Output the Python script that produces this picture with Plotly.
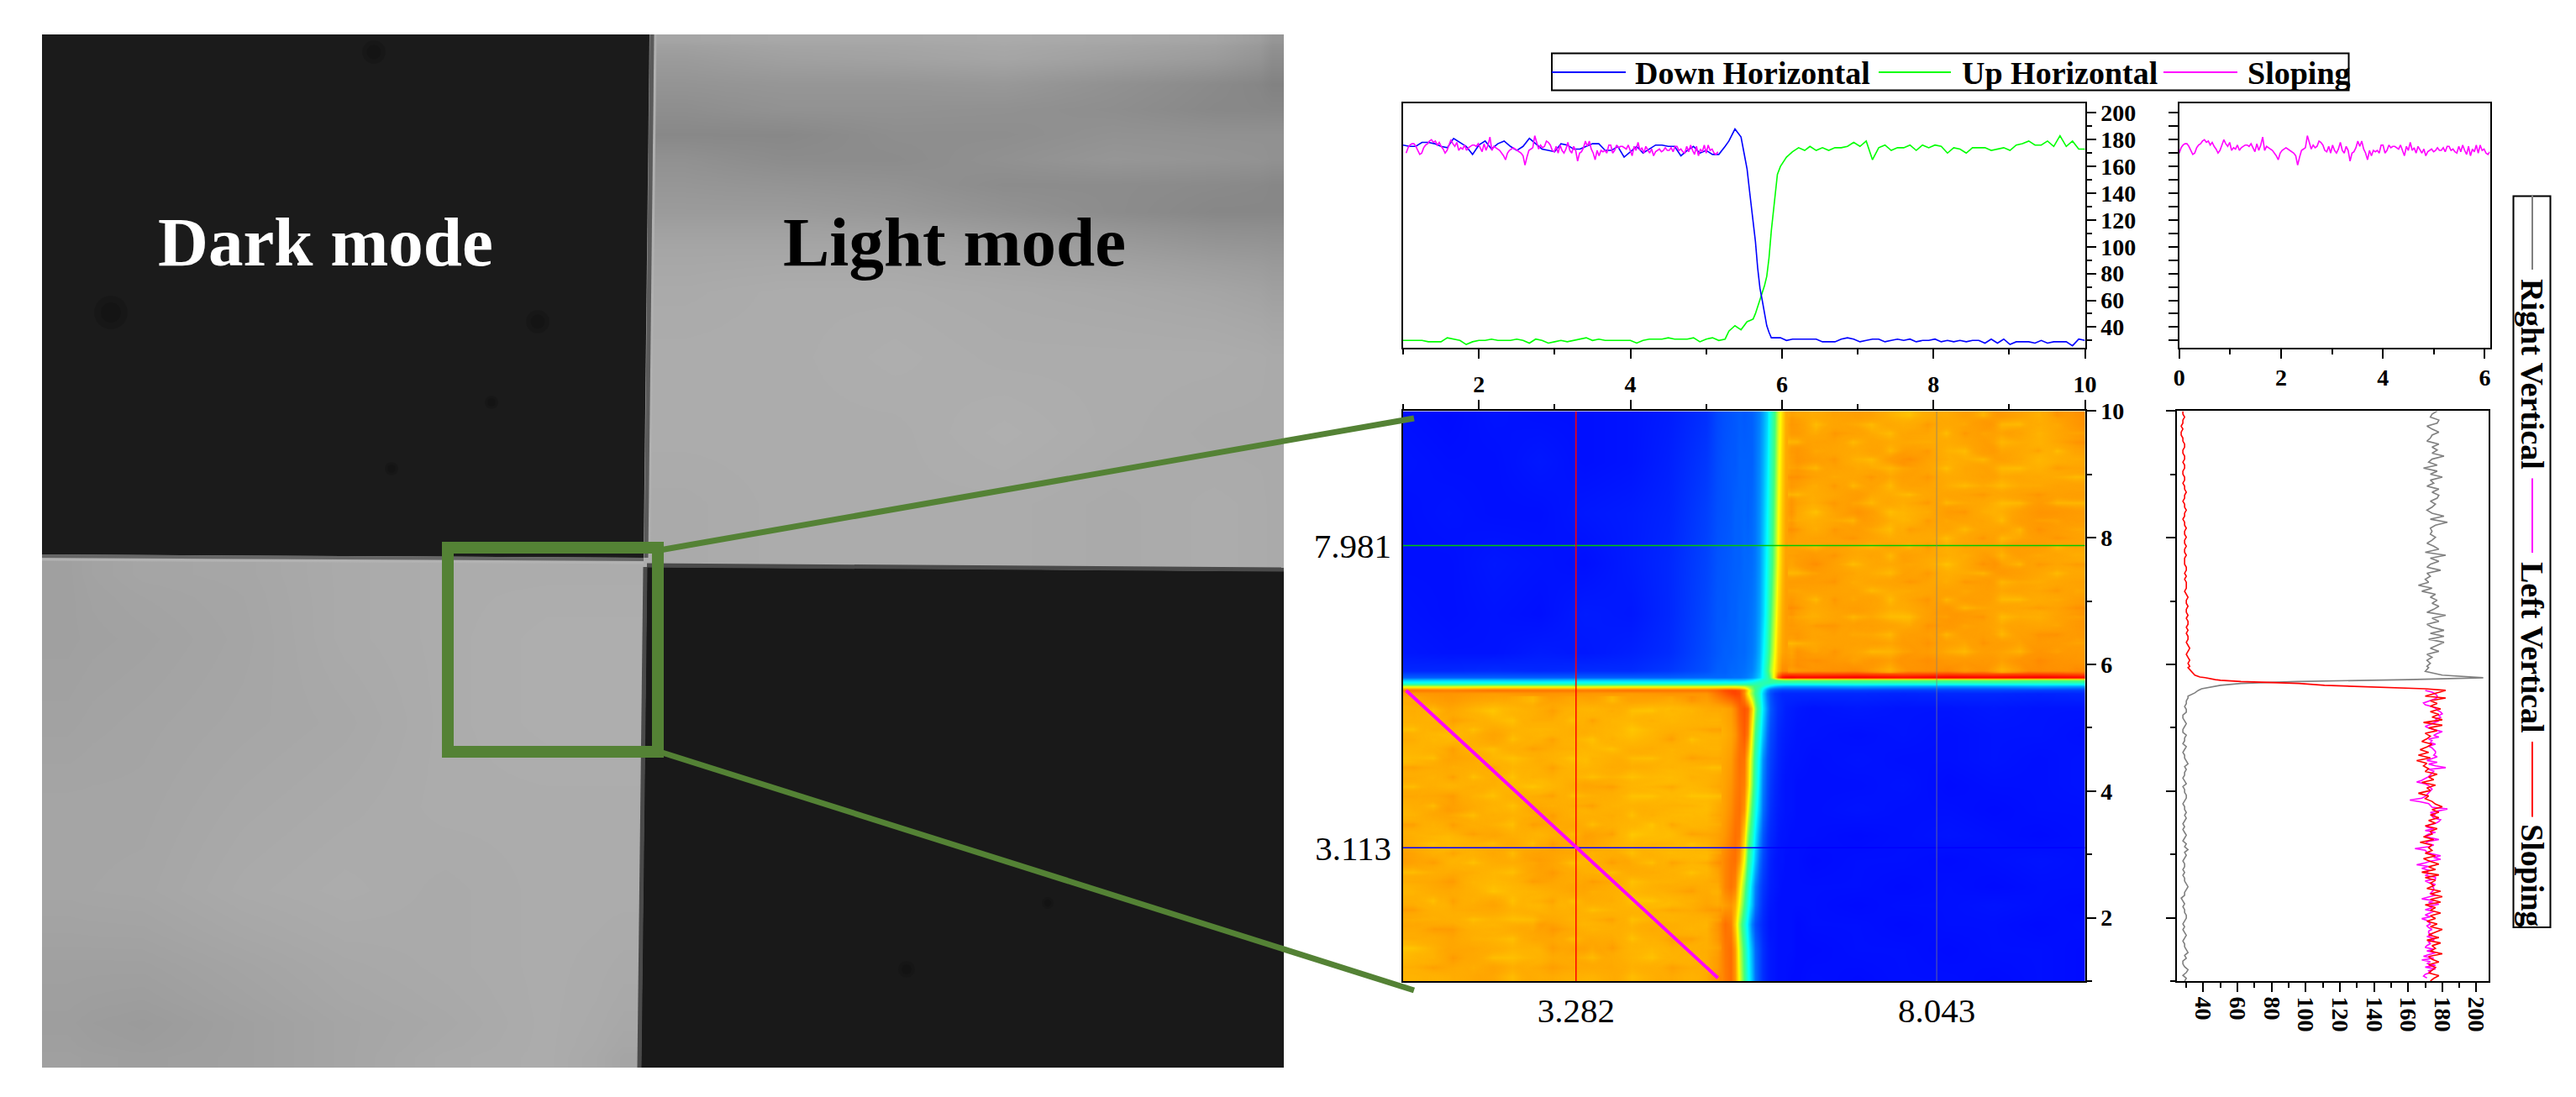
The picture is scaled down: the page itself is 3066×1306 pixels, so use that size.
import plotly.graph_objects as go

W = 3066
H = 1306
SERIF = "Liberation Serif"

# --- photo on the left, grey levels (cell edges in page pixels)
tr_x = [760, 870, 1000, 1130, 1260, 1390, 1500, 1528]
tr_y = [41, 55, 85, 115, 145, 175, 205, 235, 270, 315, 380, 470, 560, 640, 678]
tr_grey = [
    [165, 168, 168, 170, 168, 165, 150],
    [155, 160, 162, 165, 160, 155, 140],
    [148, 150, 150, 152, 145, 138, 130],
    [142, 146, 146, 145, 142, 136, 135],
    [136, 136, 142, 142, 146, 145, 145],
    [145, 140, 140, 145, 150, 148, 145],
    [150, 148, 146, 140, 140, 138, 135],
    [155, 155, 152, 146, 140, 135, 135],
    [165, 165, 165, 160, 155, 150, 148],
    [170, 172, 172, 170, 168, 165, 160],
    [172, 172, 174, 172, 172, 172, 170],
    [172, 172, 172, 175, 172, 170, 170],
    [170, 172, 172, 172, 170, 172, 170],
    [170, 172, 172, 172, 170, 172, 170],
]
bl_x = [50, 110, 230, 350, 470, 590, 710, 775]
bl_y = [658, 710, 810, 910, 1010, 1110, 1190, 1245, 1271]
bl_grey = [
    [160, 165, 166, 170, 172, 172, 172],
    [160, 162, 165, 170, 172, 174, 174],
    [162, 164, 166, 168, 172, 174, 174],
    [165, 165, 168, 170, 172, 172, 172],
    [165, 166, 170, 172, 170, 172, 172],
    [160, 160, 164, 168, 170, 172, 170],
    [158, 155, 160, 165, 168, 172, 168],
    [160, 158, 160, 165, 170, 172, 165],
]
dark_tl_x = [50, 773, 766, 50]
dark_tl_y = [41, 41, 664, 660]
dark_br_x = [770, 1528, 1528, 763]
dark_br_y = [675, 680, 1271, 1271]
speck_x = [132, 640, 445, 585, 466, 1079, 1247]
speck_y = [372, 383, 62, 479, 558, 1154, 1075]
speck_size = [40, 28, 28, 16, 16, 20, 14]

# --- line profiles
horiz_x_left = [1 + i / 12 for i in range(52)]
horiz_x_mid = [5.30, 5.38, 5.46, 5.50, 5.54, 5.58, 5.62, 5.65, 5.68, 5.71, 5.74, 5.77, 5.80, 5.83, 5.86, 5.90, 5.94,
               5.98, 6.06, 6.14, 6.22, 6.30]
horiz_x_right = [6.37 + i * 0.0825 for i in range(45)]
down_horizontal = [176, 175, 175, 178, 178, 177, 175, 174, 181, 178, 175, 169, 176, 179, 173, 177, 179, 175, 172, 175,
                   181, 177, 173, 172, 171, 177, 176, 173, 173, 175, 177, 177, 172, 172, 175, 167, 171, 175, 170, 173,
                   176, 176, 175, 175, 168, 172, 175, 170, 172, 169, 169, 175,
                   179, 188, 182, 170, 158, 138, 118, 104, 84, 69, 60, 50, 41, 36, 32, 32, 32, 32, 30, 31, 31, 31,
                   31, 31, 29, 29, 29, 31, 32, 31, 29, 30, 31, 31, 29, 30, 31, 30, 31, 29, 30, 30, 31, 29, 30, 29, 30,
                   29, 30, 30, 28, 31, 28, 31, 27, 29, 29, 29, 28, 30, 28, 29, 29, 29, 26, 31, 30]
up_horizontal = [30, 30, 30, 30, 29, 29, 29, 32, 31, 30, 27, 29, 30, 30, 31, 30, 30, 30, 31, 30, 28, 31, 30, 28, 29, 30,
                 29, 30, 31, 32, 30, 31, 30, 30, 30, 30, 30, 28, 30, 31, 31, 31, 32, 31, 31, 31, 32, 29, 31, 32, 30, 31,
                 37, 41, 38, 41, 44, 45, 46, 50, 55, 61, 66, 71, 78, 92, 112, 135, 154, 160, 167, 171, 174, 172,
                 175, 172, 174, 172, 174, 174, 175, 178, 175, 179, 165, 174, 176, 172, 174, 174, 176, 172, 176, 174,
                 176, 175, 170, 174, 173, 170, 174, 174, 174, 172, 173, 174, 172, 176, 177, 179, 176, 176, 179, 175,
                 183, 175, 179, 173, 173]
sloping = [170, 174, 176, 177, 177, 175, 172, 169, 170, 174, 176, 177, 179, 180, 178, 179, 176, 178, 175, 173, 170, 172,
           176, 180, 177, 175, 178, 172, 174, 173, 176, 172, 174, 175, 176, 176, 175, 177, 174, 171, 177, 172, 176, 182,
           172, 175, 174, 173, 172, 170, 168, 165, 170, 172, 173, 174, 173, 172, 171, 170, 168, 161, 167, 172, 173, 174,
           183, 178, 173, 176, 174, 175, 179, 178, 176, 172, 171, 175, 170, 176, 172, 170, 173, 178, 172, 170, 175, 172,
           164, 170, 171, 174, 179, 175, 179, 173, 170, 165, 172, 168, 172, 171, 172, 170, 176, 176, 170, 172, 176, 174,
           175, 175, 174, 173, 176, 172, 168, 175, 172, 178, 172, 174, 170, 175, 172, 170, 173, 168, 171, 172, 173, 171,
           172, 174, 172, 172, 174, 171, 175, 175, 172, 173, 171, 170, 175, 171, 176, 172, 169, 175, 168, 173, 171, 176,
           170, 176, 172, 173, 170, 169, 171]
right_upper = [177, 174, 173, 178, 177, 171, 174, 178, 174, 173, 171, 178, 174, 177, 174, 181, 174, 172, 177, 169, 177,
               173, 180, 173, 175, 171, 178, 174, 178, 177, 173, 176, 174, 171, 174, 181, 173, 183, 176, 173, 174, 173,
               176, 174, 171, 175, 178, 170, 182, 173, 178, 173, 171, 179, 171, 173, 170, 172, 166, 174, 168, 176, 173,
               177, 174, 178, 175, 171, 182, 174, 178, 171, 174, 181, 173, 181, 172, 181, 177, 173, 178, 171, 174, 171,
               173, 171]
left_upper = [28, 28, 29, 28, 28, 27, 28, 27, 27, 28, 28, 29, 29, 28, 28, 29, 29, 28, 29, 29, 28, 28, 29, 29, 28, 29, 29,
              30, 29, 29, 28, 29, 29, 30, 29, 29, 28, 29, 29, 30, 29, 29, 30, 29, 29, 30, 29, 29, 30, 29, 29, 29, 30, 30,
              29, 30, 29, 30, 30, 30, 29, 30, 31, 30, 30, 31, 30, 30, 31, 30, 31, 31, 30, 31, 30, 31, 31, 30, 31, 32, 31,
              30, 31, 32, 31, 32]
vert_y_mid = [5.95, 5.89, 5.83, 5.80, 5.79, 5.76, 5.75, 5.73, 5.71, 5.70, 5.67, 5.64, 5.615, 5.59, 5.55, 5.50]
right_mid = [172, 170, 180, 195, 204, 160, 136, 95, 72, 62, 50, 44, 39, 37, 35, 31]
left_mid = [31, 33, 35, 38, 41, 47, 50, 62, 80, 96, 111, 143, 170, 182, 176, 170]
right_lower = [31, 30, 30, 29, 30, 30, 28, 28, 29, 30, 29, 28, 28, 30, 29, 29, 28, 30, 29, 28, 29, 29, 30, 31, 29, 30,
               29, 29, 28, 29, 30, 28, 29, 29, 30, 30, 29, 28, 29, 29, 30, 29, 30, 29, 28, 29, 28, 29, 30, 29, 28, 30,
               29, 31, 29, 30, 29, 28, 29, 29, 28, 29, 28, 29, 29, 30, 31, 30, 29, 29, 27, 28, 29, 28, 29, 29, 30, 30,
               29, 28, 29, 28, 29, 30, 29, 28, 29, 29, 30, 31, 29, 30, 28, 28, 29, 31, 30, 28, 30, 29]
left_lower = [182, 173, 177, 173, 179, 173, 178, 174, 180, 169, 180, 172, 177, 170, 173, 171, 168, 174, 171, 167, 172,
              166, 173, 165, 171, 169, 172, 170, 177, 172, 175, 168, 176, 171, 173, 166, 172, 170, 174, 176, 180, 174,
              178, 173, 178, 172, 176, 170, 177, 173, 174, 169, 175, 167, 174, 172, 174, 170, 176, 169, 173, 178, 172,
              176, 168, 178, 170, 176, 173, 175, 171, 179, 173, 180, 173, 179, 170, 176, 173, 179, 173, 176, 171, 177,
              173, 180, 176, 172, 178, 171, 179, 174, 176, 173, 180, 172, 174, 178, 172, 176, 174, 172, 178, 175, 173]

# --- false colour map
heat_x = [1.0, 1.6, 2.2, 2.8, 3.4, 4.0, 4.5, 5.0,
          5.15, 5.25, 5.32, 5.38, 5.44, 5.5, 5.55, 5.6, 5.65, 5.7, 5.75, 5.8, 5.85, 5.9, 5.95, 6.0, 6.05, 6.12, 6.2,
          6.4, 7, 7.6, 8.2, 8.8, 9.4, 10]
heat_y = [10, 9.2, 8.4, 7.6, 6.8, 6.2, 5.9, 5.8, 5.75, 5.72, 5.69, 5.66, 5.63, 5.6, 5.55, 5.3, 4.9, 4.5, 4.1, 3.7, 3.3,
          2.9, 2.5, 2.2, 1.9, 1.5, 1.0]
heat_z = [
    [30, 29, 31, 30, 30, 31, 33, 38, 44, 46, 47, 48, 49, 48, 49, 50, 53, 58, 66, 78, 98, 120, 142, 160, 172, 177, 175, 172, 176, 170, 174, 178, 172, 180],
    [31, 30, 30, 32, 30, 31, 34, 40, 45, 47, 48, 48, 50, 50, 50, 50, 54, 60, 69, 83, 103, 124, 146, 163, 173, 176, 178, 176, 172, 178, 171, 176, 170, 174],
    [30, 31, 30, 30, 32, 33, 35, 42, 46, 47, 48, 50, 50, 51, 50, 52, 55, 62, 72, 88, 107, 129, 150, 166, 174, 178, 173, 170, 178, 170, 176, 172, 178, 176],
    [30, 30, 32, 31, 30, 33, 36, 43, 47, 48, 49, 50, 50, 52, 52, 53, 56, 63, 75, 92, 111, 133, 153, 168, 175, 174, 176, 178, 172, 176, 170, 178, 174, 172],
    [31, 30, 31, 30, 33, 32, 36, 44, 48, 48, 50, 50, 52, 52, 53, 55, 58, 66, 78, 98, 120, 142, 160, 172, 176, 178, 175, 172, 176, 172, 178, 174, 172, 178],
    [32, 31, 31, 33, 32, 34, 37, 45, 48, 50, 50, 51, 52, 52, 54, 56, 60, 70, 86, 106, 128, 150, 166, 174, 176, 174, 178, 176, 174, 178, 174, 176, 178, 176],
    [36, 36, 37, 36, 37, 37, 40, 46, 50, 50, 52, 52, 53, 54, 56, 58, 64, 74, 92, 114, 136, 156, 170, 180, 180, 178, 180, 178, 180, 178, 180, 178, 180, 178],
    [50, 50, 50, 50, 50, 50, 50, 52, 52, 52, 53, 54, 54, 56, 58, 62, 68, 78, 92, 108, 128, 160, 195, 212, 216, 218, 216, 216, 218, 214, 218, 216, 218, 214],
    [74, 76, 75, 73, 76, 75, 74, 76, 75, 76, 75, 74, 75, 76, 80, 84, 90, 98, 104, 108, 114, 118, 122, 126, 128, 128, 126, 128, 126, 128, 127, 128, 126, 128],
    [92, 93, 91, 92, 93, 92, 91, 92, 92, 93, 92, 93, 94, 96, 98, 100, 104, 108, 108, 110, 112, 110, 110, 108, 108, 108, 108, 108, 110, 108, 108, 110, 108, 108],
    [112, 111, 113, 112, 111, 112, 113, 112, 113, 114, 113, 114, 112, 112, 112, 110, 110, 110, 108, 104, 100, 96, 94, 92, 92, 92, 92, 92, 94, 92, 93, 92, 92, 92],
    [140, 138, 141, 140, 139, 141, 140, 140, 140, 141, 142, 142, 140, 138, 132, 125, 118, 112, 104, 94, 84, 76, 72, 70, 68, 68, 68, 68, 70, 68, 66, 68, 70, 68],
    [170, 168, 171, 170, 169, 171, 170, 170, 172, 174, 174, 172, 170, 160, 148, 130, 118, 106, 90, 72, 60, 54, 52, 50, 50, 50, 50, 50, 52, 50, 49, 50, 52, 50],
    [186, 184, 187, 186, 185, 187, 186, 186, 190, 196, 198, 198, 194, 182, 160, 136, 120, 104, 84, 62, 50, 46, 44, 42, 42, 42, 42, 42, 42, 41, 42, 43, 42, 42],
    [176, 178, 176, 178, 177, 176, 178, 178, 186, 192, 196, 198, 196, 180, 156, 134, 118, 100, 78, 56, 46, 40, 38, 36, 36, 36, 36, 36, 36, 35, 36, 36, 35, 36],
    [170, 174, 168, 172, 170, 172, 168, 172, 172, 174, 176, 182, 190, 194, 190, 165, 132, 108, 84, 62, 48, 42, 38, 36, 34, 33, 32, 31, 32, 31, 31, 32, 31, 31],
    [172, 168, 174, 170, 172, 168, 172, 170, 170, 172, 174, 178, 186, 192, 184, 150, 120, 96, 74, 54, 44, 40, 36, 34, 33, 32, 31, 31, 30, 31, 30, 31, 31, 30],
    [168, 174, 170, 172, 168, 174, 170, 172, 172, 174, 176, 182, 187, 186, 168, 138, 110, 85, 62, 48, 42, 38, 35, 33, 32, 31, 31, 30, 31, 30, 30, 31, 30, 31],
    [174, 170, 172, 168, 174, 170, 168, 170, 172, 175, 178, 183, 186, 183, 165, 132, 106, 80, 58, 46, 40, 36, 34, 32, 31, 31, 30, 30, 30, 31, 29, 30, 30, 31],
    [170, 176, 170, 174, 170, 172, 170, 168, 172, 176, 180, 185, 187, 178, 150, 120, 96, 74, 54, 44, 38, 35, 33, 32, 31, 31, 30, 30, 31, 30, 30, 29, 30, 30],
    [172, 168, 174, 170, 176, 168, 168, 172, 174, 178, 183, 187, 185, 163, 132, 108, 84, 62, 48, 40, 36, 34, 32, 31, 31, 30, 30, 30, 29, 30, 31, 30, 29, 30],
    [176, 170, 172, 176, 170, 174, 170, 168, 176, 182, 186, 187, 178, 150, 120, 96, 74, 54, 44, 38, 34, 32, 31, 31, 30, 30, 30, 29, 30, 30, 29, 30, 31, 30],
    [170, 174, 168, 172, 174, 170, 172, 172, 172, 182, 186, 182, 160, 130, 106, 78, 58, 46, 40, 36, 33, 32, 31, 30, 30, 30, 30, 30, 30, 29, 30, 29, 30, 30],
    [172, 170, 174, 168, 172, 170, 168, 174, 172, 176, 178, 172, 150, 120, 96, 74, 54, 44, 38, 34, 32, 31, 30, 30, 30, 30, 30, 30, 29, 30, 30, 31, 30, 29],
    [174, 172, 170, 176, 170, 172, 172, 170, 178, 187, 184, 165, 135, 105, 84, 58, 46, 40, 36, 33, 31, 31, 30, 30, 30, 30, 29, 30, 30, 29, 30, 30, 29, 30],
    [168, 174, 172, 170, 176, 170, 170, 172, 176, 185, 188, 176, 145, 116, 92, 70, 52, 44, 38, 34, 32, 31, 30, 30, 30, 30, 29, 29, 30, 30, 29, 30, 30, 29],
    [172, 170, 176, 172, 170, 174, 172, 170, 176, 184, 188, 178, 150, 120, 96, 74, 54, 44, 38, 34, 32, 31, 30, 30, 30, 29, 29, 30, 29, 30, 30, 29, 30, 29],
]
jet_scale = [[0, "#00007f"], [0.11, "#0000f0"], [0.125, "#0000ff"], [0.375, "#00ffff"], [0.5, "#40ff80"],
             [0.625, "#ffff00"], [0.875, "#ff0000"], [1, "#7f0000"]]

# mottling of the bright squares: -2 is more orange, +2 more yellow, estimated by eye
grain = [
    [1, 0, -1, 0, 1, 2, 0, -1, 0, 1, 0, 2, 1, -1, 0, -2],
    [-1, -2, -1, 1, 0, 1, -1, -2, -1, 0, -1, 1, 0, -2, -1, -1],
    [0, 1, -2, 0, 2, 2, 1, -1, 1, 2, 0, 1, 2, 0, 1, -1],
    [2, 1, 0, -1, 0, 1, 0, -2, 0, 1, -2, 0, 1, -1, 0, 1],
    [-1, 0, -1, 1, 1, 2, -1, -1, 2, 0, -1, 2, 0, -2, -2, 0],
    [0, -2, -2, 0, -1, 0, 1, -2, -1, 1, 0, 1, -1, 0, 1, -1],
    [1, 1, 0, 2, 1, 2, 2, 0, 1, -1, -2, 2, 1, 1, 0, 1],
    [-2, 0, -1, -1, 0, 1, 0, -1, 0, 2, 1, 0, -1, -2, -1, -2],
    [0, 2, -2, 1, -1, 2, -1, -2, 2, 0, -1, 2, 2, 0, 1, 0],
    [1, 0, 0, 0, 2, 1, 1, 0, -1, 1, 0, 1, 0, -1, -2, 1],
    [-1, -1, -2, 1, 0, 0, -2, -1, 1, -2, -1, 2, 1, 1, 0, -1],
    [2, 1, -1, -1, 1, 2, 0, -2, 0, 1, 2, 0, -1, 0, 2, 0],
    [0, -2, 0, 2, 0, 1, 1, 0, 2, 0, -2, 1, 2, -2, -1, -2],
    [-1, 0, -2, 0, -1, 2, -1, -1, -1, 1, 0, 2, 0, 1, 0, 1],
    [1, 2, 0, 1, 2, 0, 2, -2, 1, -1, 1, 1, -1, -1, 2, 0],
    [0, -1, -1, -2, 0, 1, 0, 0, 2, 0, -2, 2, 1, 0, -2, -1],
    [-2, 1, -2, 0, 1, 2, -2, -1, 0, 2, 0, 0, 2, -2, 0, 1],
    [1, 0, 1, 2, -1, 1, 1, -2, 1, 0, -1, 2, -1, 1, 1, -1],
    [0, 2, -1, 0, 0, 2, 0, 1, -1, -2, 1, 1, 0, -1, -1, 0],
    [-1, -1, -2, 1, 2, 0, -1, -2, 2, 1, 0, 2, 2, 0, 2, 2],
    [2, 0, 0, -1, 1, 1, 2, 0, 0, -1, -2, 0, -1, -2, 0, -1],
    [0, 1, -2, 2, 0, 2, -1, -1, 1, 2, 1, 2, 1, 1, -1, 0],
    [-2, -1, 1, 0, -2, 1, 0, -2, 0, 0, -1, 1, 0, -1, 1, 2],
    [1, 2, -1, -1, 1, 2, 1, 0, 2, -1, 0, 2, 2, 0, -2, -1],
    [0, 0, -2, 1, 2, 0, -2, -1, -1, 1, 2, 0, -1, 1, 0, 1],
    [-1, 1, 0, 0, -1, 2, 0, -2, 1, 2, -1, 1, 0, -2, 2, 0],
    [2, -1, -1, 2, 0, 1, 1, 1, 0, 0, 0, 2, 1, 0, -1, -2],
    [0, 1, -2, -1, 1, 2, -1, -1, 2, -2, 1, 1, -1, 1, 0, 1],
    [-1, 2, 0, 1, 2, 0, 0, -2, 0, 1, -1, 2, 2, -1, 1, -1],
    [1, 0, -1, 0, -1, 1, 2, 0, 1, 0, 2, 0, 0, 1, -2, 0],
]
grain_scale = [[0, "rgba(255,120,0,0.3)"], [0.5, "rgba(255,170,0,0)"], [1, "rgba(255,215,0,0.45)"]]

# cross hairs and tick text of the map
cursor_x = [3.282, 8.043]
cursor_y = [7.875, 3.105]
cursor_x_text = ["3.282", "8.043"]
cursor_y_text = ["7.981", "3.113"]
slope_line_x = [1.04, 5.155]
slope_line_y = [5.59, 1.05]

major_v = [2, 4, 6, 8, 10]
minor_v = [1, 3, 5, 7, 9]
grey_major = [40, 60, 80, 100, 120, 140, 160, 180, 200]
grey_minor = [30, 50, 70, 90, 110, 130, 150, 170, 190]
grey_range = [24.35, 207]


def spread(a, b, n):
    return [a + (b - a) * i / (n - 1) for i in range(n)]


def dom_x(a, b):
    return [a / W, b / W]


def dom_y(top, bottom):
    return [1 - bottom / H, 1 - top / H]


def frame_axis(tick_len=11, minor_len=6, **kw):
    ax = dict(showline=True, linecolor="black", linewidth=2, mirror=True, showgrid=False, zeroline=False,
              ticks="outside", ticklen=tick_len, tickwidth=2, tickcolor="black",
              tickfont=dict(family=SERIF, size=28, color="black", weight="bold"))
    ax.update(kw)
    return ax


def minor_ticks(vals):
    return dict(tickvals=vals, ticks="outside", ticklen=6, tickwidth=2, tickcolor="black", showgrid=False)


def photo_line(xs, ys, col, width):
    return go.Scatter(x=xs, y=ys, mode="lines", line=dict(color=col, width=width), xaxis="x", yaxis="y",
                      showlegend=False, hoverinfo="skip")


fig = go.Figure()

# photo
grey_scale = [[0, "#000000"], [1, "#ffffff"]]
fig.add_trace(go.Heatmap(x=tr_x, y=tr_y, z=tr_grey, colorscale=grey_scale, zmin=0, zmax=255, zsmooth="best",
                         showscale=False, xaxis="x", yaxis="y", hoverinfo="skip"))
fig.add_trace(go.Heatmap(x=bl_x, y=bl_y, z=bl_grey, colorscale=grey_scale, zmin=0, zmax=255, zsmooth="best",
                         showscale=False, xaxis="x", yaxis="y", hoverinfo="skip"))
fig.add_trace(go.Scatter(x=dark_tl_x, y=dark_tl_y, fill="toself", fillcolor="#1b1b1b", mode="lines",
                         line=dict(width=0), xaxis="x", yaxis="y", showlegend=False))
fig.add_trace(go.Scatter(x=dark_br_x, y=dark_br_y, fill="toself", fillcolor="#191919", mode="lines",
                         line=dict(width=0), xaxis="x", yaxis="y", showlegend=False))
# soft grey seams between the four squares
fig.add_trace(photo_line([dark_tl_x[1] + 7, dark_tl_x[2] + 7], [dark_tl_y[1], dark_tl_y[2]], "#b0b0b0", 3))
fig.add_trace(photo_line([dark_tl_x[1] + 3, dark_tl_x[2] + 3], [dark_tl_y[1], dark_tl_y[2]], "#5a5a5a", 5))
fig.add_trace(photo_line([dark_tl_x[3], dark_tl_x[2]], [dark_tl_y[3] + 6, dark_tl_y[2] + 6], "#b2b2b2", 3))
fig.add_trace(photo_line([dark_tl_x[3], dark_tl_x[2]], [dark_tl_y[3] + 2, dark_tl_y[2] + 2], "#666666", 4))
fig.add_trace(photo_line(dark_br_x[:2], [dark_br_y[0] - 2, dark_br_y[1] - 2], "#4a4a4a", 5))
fig.add_trace(photo_line([dark_br_x[0] - 2, dark_br_x[3] - 2], [dark_br_y[0], dark_br_y[3]], "#4a4a4a", 5))
fig.add_trace(go.Scatter(x=speck_x + speck_x, y=speck_y + speck_y, mode="markers",
                         marker=dict(color="rgba(0,0,0,0.16)", size=speck_size + [s * 0.6 for s in speck_size],
                                     line=dict(width=0)),
                         xaxis="x", yaxis="y", showlegend=False, hoverinfo="skip"))

# top horizontal profiles
horiz_x = horiz_x_left + horiz_x_mid + horiz_x_right
sloping_top_x = spread(slope_line_x[0], slope_line_x[1], len(sloping))
fig.add_trace(go.Scatter(x=horiz_x, y=up_horizontal, mode="lines", line=dict(color="#00ff00", width=1.6),
                         xaxis="x2", yaxis="y2", showlegend=False))
fig.add_trace(go.Scatter(x=horiz_x, y=down_horizontal, mode="lines", line=dict(color="#0000ff", width=1.6),
                         xaxis="x2", yaxis="y2", showlegend=False))
fig.add_trace(go.Scatter(x=sloping_top_x, y=sloping, mode="lines", line=dict(color="#ff00ff", width=1.6),
                         xaxis="x2", yaxis="y2", showlegend=False))

# map
fig.add_trace(go.Heatmap(x=heat_x, y=heat_y[::-1], z=heat_z[::-1], colorscale=jet_scale, zmin=-5, zmax=246,
                         zsmooth="best", showscale=False, xaxis="x3", yaxis="y3", hoverinfo="skip"))
for gx, gy in [(spread(6.08, 10, 17), spread(5.86, 10, 31)), (spread(1, 5.2, 17), spread(1, 5.5, 31))]:
    fig.add_trace(go.Heatmap(x=gx, y=gy, z=grain, colorscale=grain_scale, zmin=-2, zmax=2, zsmooth="best",
                             showscale=False, xaxis="x3", yaxis="y3", hoverinfo="skip"))
fig.add_trace(go.Scatter(x=[1, 10], y=[cursor_y[0], cursor_y[0]], mode="lines", line=dict(color="#00c800", width=1.5),
                         xaxis="x4", yaxis="y4", showlegend=False))
fig.add_trace(go.Scatter(x=[1, 10], y=[cursor_y[1], cursor_y[1]], mode="lines", line=dict(color="#0000ff", width=1.5),
                         xaxis="x4", yaxis="y4", showlegend=False))
fig.add_trace(go.Scatter(x=[cursor_x[0], cursor_x[0]], y=[1, 10], mode="lines", line=dict(color="#ff0000", width=1.5),
                         xaxis="x4", yaxis="y4", showlegend=False))
fig.add_trace(go.Scatter(x=[cursor_x[1], cursor_x[1]], y=[1, 10], mode="lines",
                         line=dict(color="rgba(128,128,128,0.5)", width=1.5),
                         xaxis="x4", yaxis="y4", showlegend=False))
fig.add_trace(go.Scatter(x=slope_line_x, y=slope_line_y, mode="lines", line=dict(color="#ff00ff", width=4),
                         xaxis="x4", yaxis="y4", showlegend=False))

# vertical profiles
right_vals = right_upper + right_mid + right_lower
left_vals = left_upper + left_mid + left_lower
right_y = spread(10, 5.97, len(right_upper)) + vert_y_mid + spread(5.47, 1, len(right_lower))
left_y = spread(10, 5.97, len(left_upper)) + vert_y_mid + spread(5.47, 1, len(left_lower))
fig.add_trace(go.Scatter(x=right_vals, y=right_y, mode="lines", line=dict(color="#808080", width=1.6),
                         xaxis="x5", yaxis="y5", showlegend=False))
fig.add_trace(go.Scatter(x=sloping, y=spread(slope_line_y[0], slope_line_y[1], len(sloping)), mode="lines",
                         line=dict(color="#ff00ff", width=1.6), xaxis="x5", yaxis="y5", showlegend=False))
fig.add_trace(go.Scatter(x=left_vals, y=left_y, mode="lines", line=dict(color="#ff0000", width=1.6),
                         xaxis="x5", yaxis="y5", showlegend=False))

# sloping on its own length
fig.add_trace(go.Scatter(x=spread(0, 6.1, len(sloping)), y=sloping, mode="lines", line=dict(color="#ff00ff", width=1.6),
                         xaxis="x6", yaxis="y6", showlegend=False))

fig.update_layout(
    template="none",  # the default template turns automargin on and shrinks the page
    width=W, height=H, autosize=False, margin=dict(l=0, r=0, t=0, b=0),
    paper_bgcolor="white", plot_bgcolor="rgba(0,0,0,0)", showlegend=False,
    font=dict(family=SERIF, color="black"),
    xaxis=dict(domain=[0, 1], range=[0, W], visible=False),
    yaxis=dict(domain=[0, 1], range=[H, 0], visible=False),
    # top left panel
    xaxis2=frame_axis(domain=dom_x(1670, 2481.6), range=[1, 10], anchor="y2", tickvals=major_v,
                      ticklabelstandoff=6, minor=minor_ticks(minor_v)),
    yaxis2=frame_axis(domain=dom_y(123.3, 414.3), range=grey_range, anchor="x2", side="right", tickvals=grey_major,
                      minor=minor_ticks(grey_minor)),
    # map with cursor labels on bottom and left
    xaxis3=dict(domain=dom_x(1670, 2481.6), range=[1, 10], anchor="y3", tickvals=cursor_x, ticktext=cursor_x_text,
                ticks="", showgrid=False, zeroline=False, ticklabelstandoff=7,
                tickfont=dict(family=SERIF, size=41, color="black")),
    yaxis3=dict(domain=dom_y(489.4, 1168), range=[1, 10], anchor="x3", tickvals=cursor_y, ticktext=cursor_y_text,
                ticks="", showgrid=False, zeroline=False, ticklabelstandoff=13,
                tickfont=dict(family=SERIF, size=41, color="black")),
    # ticks on top and right of the map, cross hairs live here
    xaxis4=frame_axis(domain=dom_x(1670, 2481.6), range=[1, 10], anchor="y4", overlaying="x3", side="top",
                      tickvals=major_v, showticklabels=False, minor=minor_ticks(minor_v)),
    yaxis4=frame_axis(domain=dom_y(489.4, 1168), range=[1, 10], anchor="x4", overlaying="y3", side="right",
                      tickvals=major_v, minor=minor_ticks(minor_v)),
    # vertical profile panel
    xaxis5=frame_axis(domain=dom_x(2590.7, 2961.7), range=grey_range, anchor="y5", tickvals=grey_major, tickangle=90,
                      minor=minor_ticks(grey_minor)),
    yaxis5=frame_axis(domain=dom_y(489.4, 1168), range=[1, 10], anchor="x5", tickvals=major_v, showticklabels=False,
                      minor=minor_ticks(minor_v)),
    # sloping panel
    xaxis6=frame_axis(domain=dom_x(2593.7, 2963.5), range=[0, 6.1], anchor="y6", tickvals=[0, 2, 4, 6],
                      ticklabelstandoff=-2, minor=minor_ticks([1, 3, 5])),
    yaxis6=frame_axis(domain=dom_y(123.3, 414.3), range=grey_range, anchor="x6", showticklabels=False,
                      tickvals=grey_major + grey_minor),
)

# green zoom box and its two leader lines, on top of everything
GREEN = "#548235"
fig.add_shape(type="rect", xref="x", yref="y", x0=533, y0=652, x1=783, y1=895, line=dict(color=GREEN, width=14),
              layer="above")
fig.add_shape(type="line", xref="x", yref="y", x0=785, y0=655, x1=1683, y1=498, line=dict(color=GREEN, width=7),
              layer="above")
fig.add_shape(type="line", xref="x", yref="y", x0=785, y0=895, x1=1683, y1=1179, line=dict(color=GREEN, width=7),
              layer="above")

# hand drawn legends, the vertical one can not be a plotly legend
BOLD = dict(family=SERIF, size=38, color="black", weight="bold")
fig.add_shape(type="rect", xref="x", yref="y", x0=1847, y0=63.5, x1=2795.5, y1=107.5,
              line=dict(color="black", width=2), layer="above")
fig.add_shape(type="rect", xref="x", yref="y", x0=2991.5, y0=233.5, x1=3035.5, y1=1104,
              line=dict(color="black", width=2), layer="above")
for x0, x1, col in [(1847, 1935, "#0000ff"), (2236, 2322, "#00ff00"), (2575, 2663, "#ff00ff")]:
    fig.add_shape(type="line", xref="x", yref="y", x0=x0, y0=86, x1=x1, y1=86, line=dict(color=col, width=2),
                  layer="above")
for y0, y1, col in [(233, 321, "#808080"), (569.5, 658, "#ff00ff"), (883, 972.5, "#ff0000")]:
    fig.add_shape(type="line", xref="x", yref="y", x0=3014, y0=y0, x1=3014, y1=y1, line=dict(color=col, width=2),
                  layer="above")
for txt, x in [("Down Horizontal", 1944), ("Up Horizontal", 2333), ("Sloping", 2673)]:
    fig.add_annotation(text=txt, x=x, y=86.5, xref="x", yref="y", showarrow=False, xanchor="left", yanchor="middle",
                       font=BOLD)
for txt, y in [("Right Vertical", 445), ("Left Vertical", 771), ("Sloping", 1042)]:
    fig.add_annotation(text=txt, x=3014, y=y, xref="x", yref="y", showarrow=False, textangle=90, xanchor="center",
                       yanchor="middle", font=BOLD)

# labels on the photo
fig.add_annotation(text="Dark mode", x=186, y=288, xref="x", yref="y", showarrow=False, xanchor="left",
                   yanchor="middle", font=dict(family=SERIF, size=83, color="white", weight="bold"))
fig.add_annotation(text="Light mode", x=930, y=288, xref="x", yref="y", showarrow=False, xanchor="left",
                   yanchor="middle", font=dict(family=SERIF, size=83, color="black", weight="bold"))

# the browser's default body margin would push the figure off the window
fig.write_html("out.html", config={"displayModeBar": False},
               post_script="document.body.style.margin='0';document.documentElement.style.overflow='hidden';")
